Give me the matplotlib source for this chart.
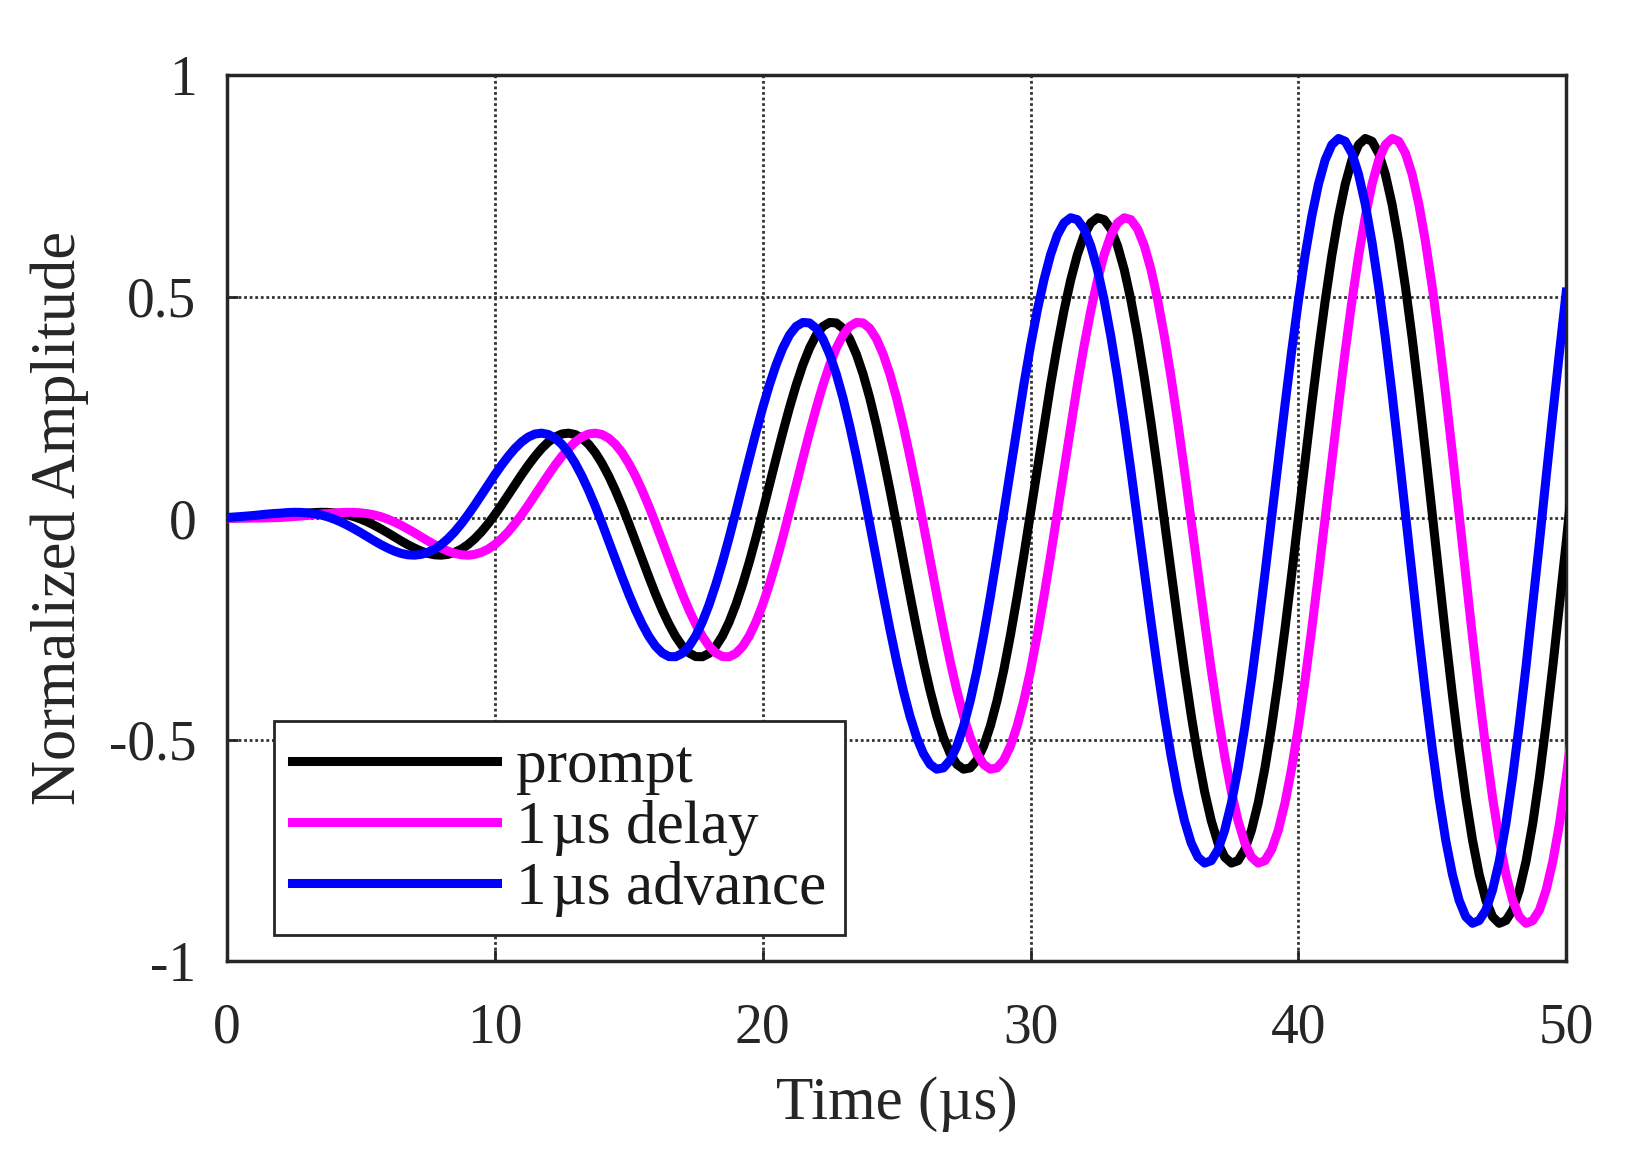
import numpy as np
import matplotlib
matplotlib.use("Agg")
import matplotlib.pyplot as plt

plt.rcParams['font.family'] = ['Liberation Serif', 'DejaVu Serif']

# time grid of the prompt signal (us), 0.25 us sampling
time_us = np.arange(-1.0, 51.25, 0.25)

# prompt waveform, from t=-1 to t=51 us
prompt = [
    0.0, 0.0, 0.0, 0.0,
    0.0000, 0.0001, 0.0004, 0.0008, 0.0013, 0.0023, 0.0034, 0.0046, 0.0058, 0.0075,
    0.0090, 0.0102, 0.0111, 0.0124, 0.0130, 0.0128, 0.0117, 0.0100, 0.0071, 0.0030,
    -0.0024, -0.0088, -0.0163, -0.0245, -0.0332, -0.0424, -0.0515, -0.0601, -0.0678, -0.0746,
    -0.0798, -0.0830, -0.0838, -0.0820, -0.0773, -0.0701, -0.0598, -0.0467, -0.0310, -0.0127,
    0.0076, 0.0293, 0.0520, 0.0751, 0.0978, 0.1194, 0.1393, 0.1572, 0.1719, 0.1830,
    0.1898, 0.1917, 0.1887, 0.1803, 0.1667, 0.1477, 0.1236, 0.0951, 0.0626, 0.0267,
    -0.0118, -0.0518, -0.0925, -0.1328, -0.1716, -0.2074, -0.2394, -0.2672, -0.2892, -0.3045,
    -0.3127, -0.3131, -0.3055, -0.2898, -0.2661, -0.2343, -0.1954, -0.1500, -0.0993, -0.0440,
    0.0144, 0.0744, 0.1345, 0.1930, 0.2489, 0.3003, 0.3457, 0.3837, 0.4132, 0.4327,
    0.4416, 0.4405, 0.4282, 0.4043, 0.3697, 0.3249, 0.2708, 0.2081, 0.1385, 0.0640,
    -0.0142, -0.0941, -0.1735, -0.2506, -0.3234, -0.3896, -0.4474, -0.4953, -0.5317, -0.5561,
    -0.5670, -0.5640, -0.5466, -0.5148, -0.4696, -0.4124, -0.3437, -0.2647, -0.1778, -0.0850,
    0.0119, 0.1101, 0.2073, 0.3011, 0.3888, 0.4683, 0.5374, 0.5949, 0.6386, 0.6664,
    0.6780, 0.6737, 0.6525, 0.6145, 0.5606, 0.4918, 0.4098, 0.3170, 0.2150, 0.1063,
    -0.0066, -0.1211, -0.2343, -0.3434, -0.4455, -0.5378, -0.6179, -0.6837, -0.7338, -0.7655,
    -0.7790, -0.7735, -0.7486, -0.7048, -0.6432, -0.5649, -0.4717, -0.3662, -0.2504, -0.1273,
    0.0000, 0.1287, 0.2553, 0.3768, 0.4899, 0.5925, 0.6811, 0.7538, 0.8085, 0.8430,
    0.8570, 0.8507, 0.8234, 0.7755, 0.7081, 0.6226, 0.5209, 0.4059, 0.2799, 0.1463,
    0.0080, -0.1310, -0.2676, -0.3983, -0.5202, -0.6308, -0.7266, -0.8044, -0.8627, -0.9000,
    -0.9150, -0.9087, -0.8850, -0.8400, -0.7750, -0.6900, -0.5850, -0.4650, -0.3350, -0.1960,
    -0.0550, 0.0920, 0.2350, 0.3750, 0.5100,
]

delay_us = 1.0
advance_us = -1.0

series_labels = ['prompt', '1\u200a\u00b5s delay', '1\u200a\u00b5s advance']
series_colors = ['#000000', '#ff00ff', '#0000ff']

x_ticks = [0, 10, 20, 30, 40, 50]
y_ticks = [-1, -0.5, 0, 0.5, 1]
y_tick_labels = ['-1', '-0.5', '0', '0.5', '1']

fs = 40
fs_lab = 44
fs_leg = 44
edge = '#262626'

fig = plt.figure(figsize=(16.4, 11.56), dpi=100)
ax = fig.add_axes([0.1384, 0.1687, 0.8166, 0.7663])

shifts = [0.0, delay_us, advance_us]
for lab, col, sh in zip(series_labels, series_colors, shifts):
    ax.plot(time_us + sh, prompt, color=col, linewidth=6.5, label=lab, zorder=3,
            solid_joinstyle='round')

ax.set_xlim(0, 50)
ax.set_ylim(-1, 1)
ax.set_xticks(x_ticks)
ax.set_yticks(y_ticks)
ax.set_yticklabels(y_tick_labels)
ax.tick_params(direction='in', length=8, width=2, colors=edge, labelsize=fs,
               labelcolor='#262626')
ax.tick_params(axis='x', pad=30)
ax.tick_params(axis='y', pad=22)

ax.grid(True, linestyle=(0, (1, 1)), linewidth=2, color='#333333', zorder=0)
ax.set_axisbelow(True)
for sp in ax.spines.values():
    sp.set_linewidth(2.5)
    sp.set_color(edge)

ax.set_xlabel('Time (\u00b5s)', fontsize=fs_lab, color='#262626')
ax.xaxis.set_label_coords(0.5, -0.13)
ax.set_ylabel('Normalized Amplitude', fontsize=45, color='#262626')
ax.yaxis.set_label_coords(-0.125, 0.5)
ax.yaxis.label.set_verticalalignment('center')

leg = ax.legend(loc='lower left', bbox_to_anchor=(0.035, 0.029), borderaxespad=0,
                fontsize=fs_leg, handlelength=3.35, handletextpad=0.32, borderpad=0.3,
                labelspacing=0.08, fancybox=False, framealpha=1, edgecolor=edge)
leg.get_frame().set_linewidth(2)
for t in leg.get_texts():
    t.set_color('#1a1a1a')

fig.savefig('out.png', dpi=100)
